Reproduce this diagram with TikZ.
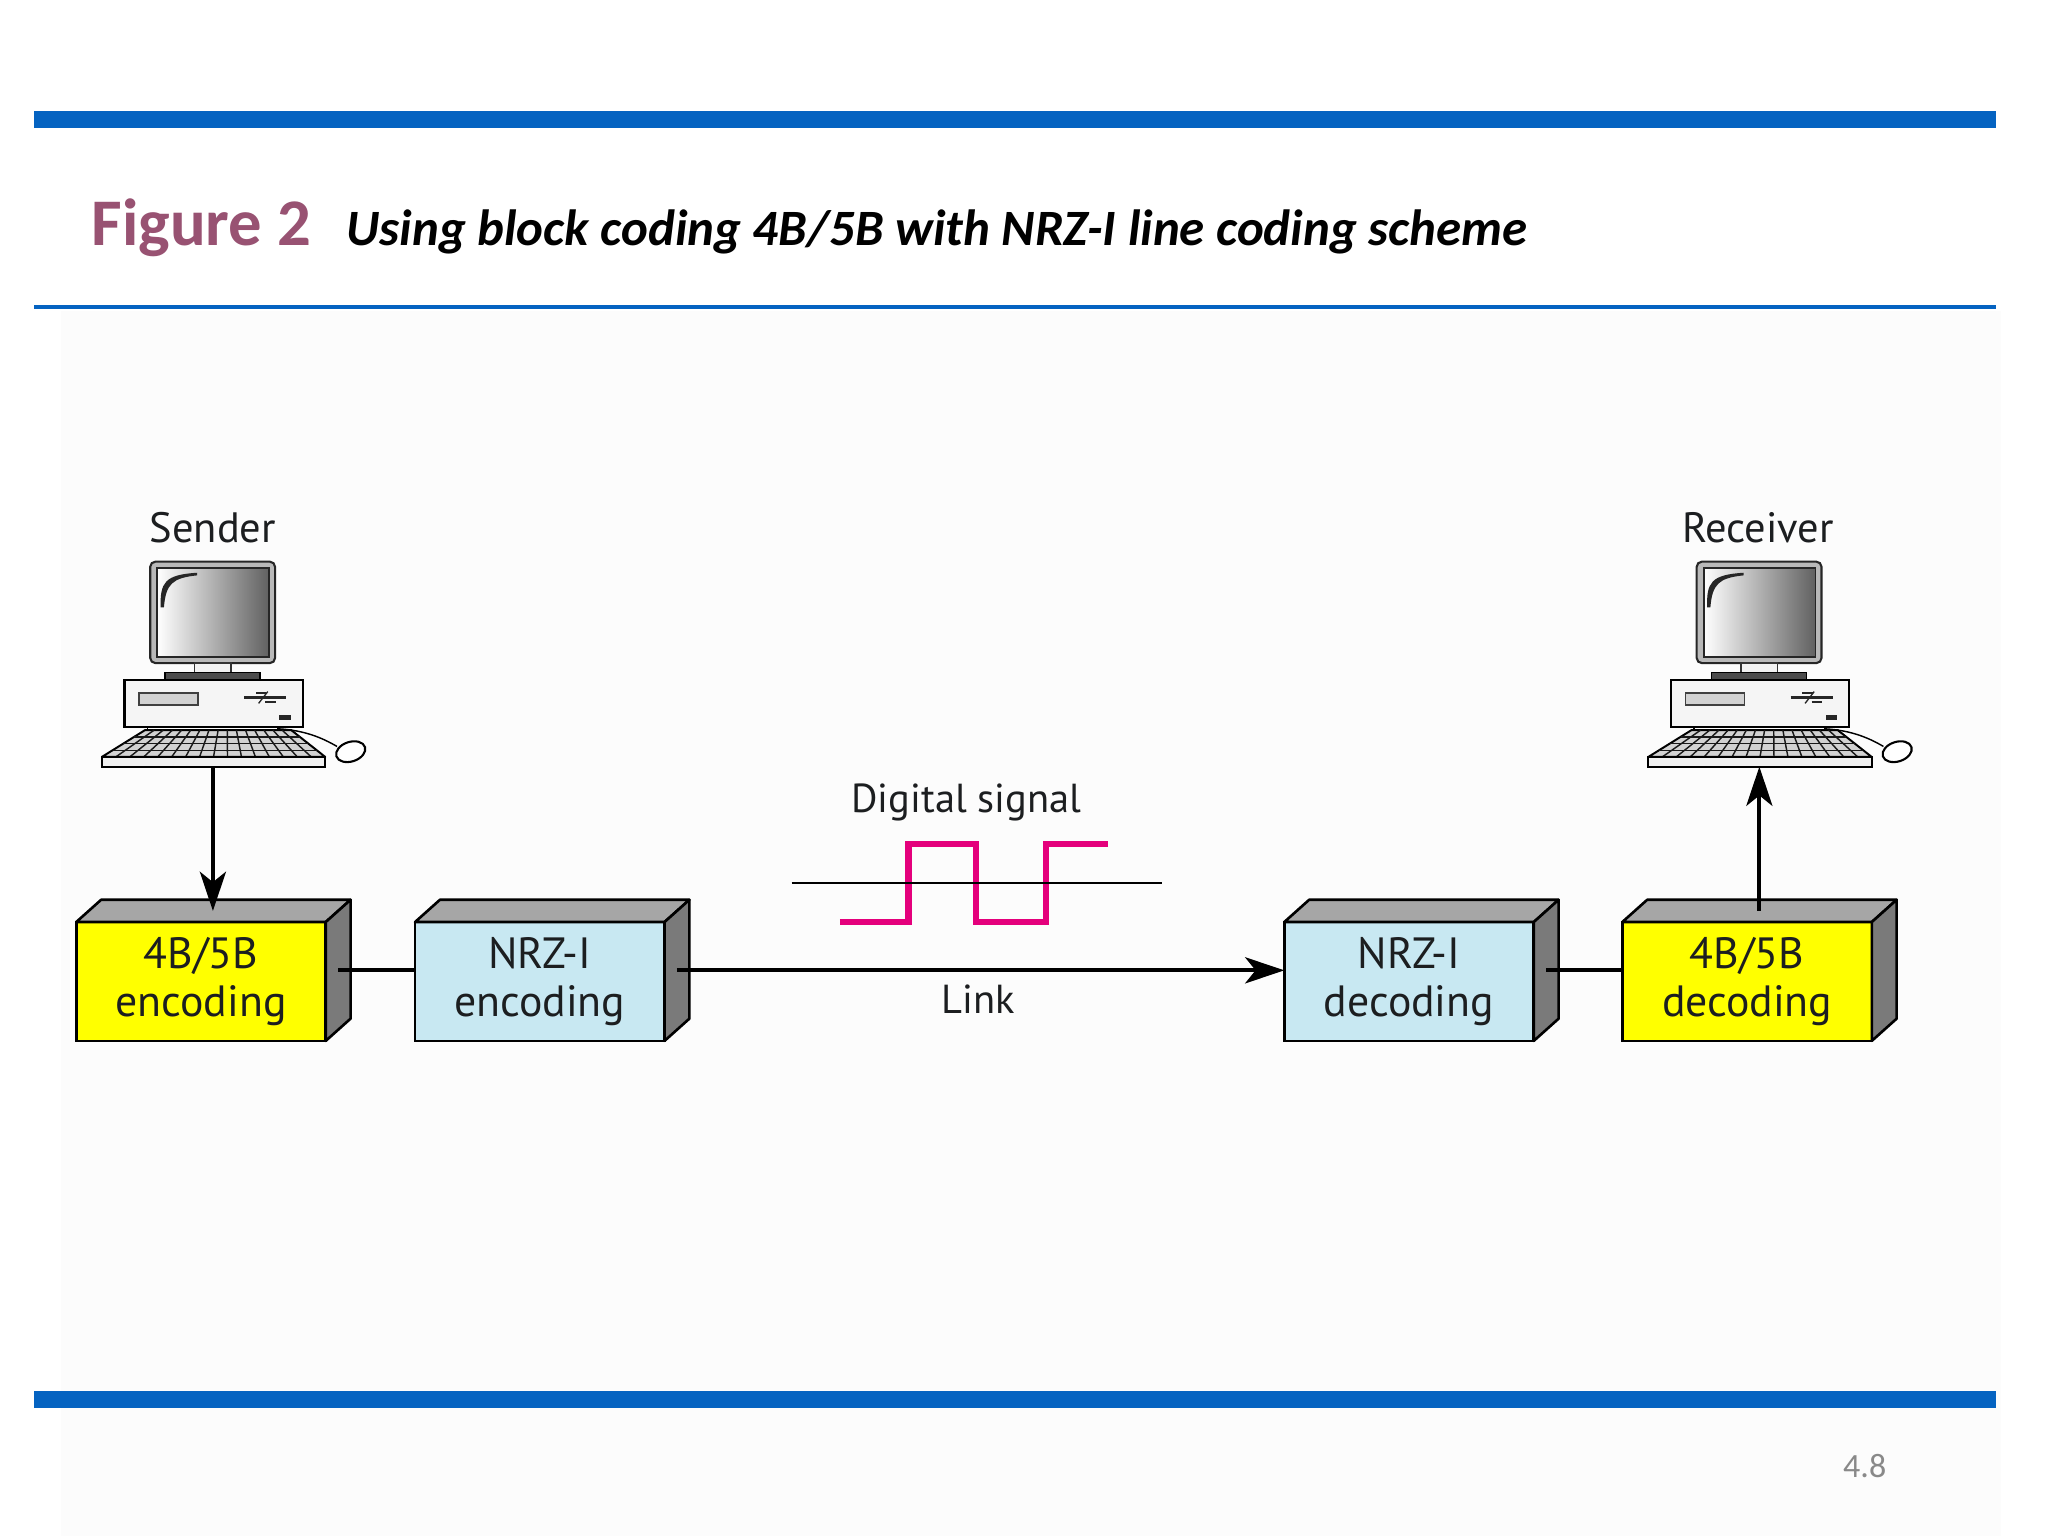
\documentclass[tikz,border=0pt]{standalone}
\usepackage{fontspec}
\setmainfont{Carlito}
\newfontfamily\diag{PT Sans}
\usetikzlibrary{arrows.meta,calc}
\definecolor{barblue}{RGB}{5,99,193}
\definecolor{figmauve}{RGB}{152,82,114}
\definecolor{sigpink}{RGB}{228,0,124}
\definecolor{boxyellow}{RGB}{255,255,0}
\definecolor{boxblue}{RGB}{200,232,242}
\definecolor{topgray}{RGB}{166,166,166}
\definecolor{sidegray}{RGB}{122,122,122}
\definecolor{bggray}{RGB}{252,252,252}
\definecolor{pagegray}{RGB}{137,137,137}
\definecolor{inkdark}{RGB}{28,30,32}
\tikzset{
  cube/.style={draw=black, line width=2bp, minimum width=191bp, minimum height=91bp,
    inner sep=0pt, outer sep=0pt, align=center, text=inkdark,
    font=\diag\fontsize{33.5bp}{37bp}\selectfont},
  topface/.style={fill=topgray, draw=black, line width=2bp, line join=round},
  sideface/.style={fill=sidegray, draw=black, line width=2bp, line join=round},
  conn/.style={draw=black, line width=3bp},
  arr/.style={conn, -{Stealth[length=30bp,width=20bp,inset=8bp]}},
  lbl/.style={inner sep=0pt, text=inkdark, font=\diag\fontsize{31bp}{36bp}\selectfont},
  computer/.pic={
    % monitor
    \filldraw[fill=gray!55, draw=black!85, line width=1.6bp, rounded corners=4bp] (-48,0) rectangle (47.6,77.7);
    \shadedraw[left color=white, right color=black!62, draw=black!85, line width=1.4bp] (-42.5,5) rectangle (43,72.8);
    \fill[black!85] (-40,35) .. controls (-40.5,16) and (-37,10) .. (-12,8.5)
       -- (-12,10.5) .. controls (-31,12.5) and (-36,17) .. (-37.5,35) -- cycle;
    % neck and base
    \filldraw[fill=gray!10, draw=black!80, line width=1.2bp] (-14,77.7) rectangle (14,85);
    \filldraw[fill=black!70, draw=black, line width=1bp] (-36.7,85) rectangle (36,90.7);
    % case
    \filldraw[fill=gray!8, draw=black, line width=1.8bp] (-67.8,90.7) rectangle (68.8,126.4);
    \filldraw[fill=gray!35, draw=black!75, line width=1.2bp] (-56.5,100.4) rectangle (-11.3,109.8);
    \draw[black!85, line width=1.6bp] (24,104) -- (56,104);
    \draw[black!85, line width=1.2bp] (33,100.5) -- (41,100.5) (40,107.5) -- (48,107.5);
    \draw[black!85, line width=1bp] (35,108.5) -- (42,99.5);
    \fill[black!85] (50.7,117.5) rectangle (59.8,121.3);
    \draw[black, line width=1.2bp] (-50,126.4) -- (-50,129) (50,126.4) -- (50,129);
    % keyboard
    \filldraw[fill=gray!35, draw=black, line width=1.5bp, line join=round] (-52,129) -- (60,129) -- (86,149.5) -- (-85,149.5) -- cycle;
    \foreach \k in {1,2,3} {
      \pgfmathsetmacro\yy{129+\k*5.125}
      \pgfmathsetmacro\xl{-52-\k*8.25}
      \pgfmathsetmacro\xr{60+\k*6.5}
      \draw[black!90, line width=1.1bp] (\xl,\yy) -- (\xr,\yy);
    }
    \foreach \i in {1,...,15} {
      \pgfmathsetmacro\xt{-52+\i*7}
      \pgfmathsetmacro\xb{-85+\i*10.6875}
      \draw[black!90, line width=1.1bp] (\xt,129) -- (\xb,149.5);
    }
    \filldraw[fill=gray!12, draw=black, line width=1.5bp] (-85,149.5) rectangle (86,157);
    % mouse
    \draw[black, line width=1.1bp] (50,128) .. controls (70,129) and (84,135) .. (95,141.5);
    \filldraw[fill=white, draw=black, line width=1.6bp, rotate around={18:(105.5,145.5)}] (105.5,145.5) ellipse [x radius=11.5, y radius=7.5];
    \coordinate (-kb) at (0,157);
  }
}
\begin{document}
\begin{tikzpicture}[x=1bp,y=-1bp]
\useasboundingbox (0,0) rectangle (1568,1176);
\fill[white] (0,0) rectangle (1568,1176);
\fill[bggray] (47,238) rectangle (1532,1176);
% bars
\fill[barblue] (26,85) rectangle (1528,97.8);
\fill[barblue] (26,233.5) rectangle (1528,236.6);
\fill[barblue] (26,1064.8) rectangle (1528,1077.6);
% title
\node[anchor=base west, inner sep=0pt, text=figmauve, font=\fontsize{51bp}{60bp}\selectfont\bfseries] (fig) at (70,188) {Figure 2};
\node[anchor=base west, inner sep=0pt, text=black, font=\fontsize{39bp}{46bp}\selectfont\bfseries\itshape] (title) at (265,188) {Using block coding 4B/5B with NRZ-I line coding scheme};
\node[anchor=base west, inner sep=0pt, text=pagegray, font=\fontsize{26bp}{30bp}\selectfont] (page) at (1411,1131) {4.8};
% computers
\pic (snd) at (163,430) {computer};
\pic (rcv) at (1347,430) {computer};
\node[lbl, anchor=base, font=\diag\fontsize{32.5bp}{36bp}\selectfont] (sndl) at (163,415.5) {Sender};
\node[lbl, anchor=base, font=\diag\fontsize{32.5bp}{36bp}\selectfont] (rcvl) at (1346,415.5) {Receiver};
% boxes
\node[cube, fill=boxyellow] (b1) at (153.9,751.4) {4B/5B\\encoding};
\node[cube, fill=boxblue] (b2) at (413.3,751.4) {NRZ-I\\encoding};
\node[cube, fill=boxblue] (b3) at (1078.8,751.4) {NRZ-I\\decoding};
\node[cube, fill=boxyellow] (b4) at (1337.6,751.4) {4B/5B\\decoding};
\foreach \b in {b1,b2,b3,b4} {
  \filldraw[topface] (\b.north west) -- ($(\b.north west)+(19,-17)$) -- ($(\b.north east)+(19,-17)$) -- (\b.north east) -- cycle;
  \filldraw[sideface] (\b.north east) -- ($(\b.north east)+(19,-17)$) -- ($(\b.south east)+(19,-17)$) -- (\b.south east) -- cycle;
  \coordinate (\b r) at ($(\b.east)+(9.5,-8.5)$);
  \coordinate (\b t) at ($(\b.north)+(9.5,-8.5)$);
}
% connectors
\draw[conn] (b1r) -- (b1r -| b2.west);
\draw[arr] (b2r) -- (b2r -| b3.west);
\draw[conn] (b3r) -- (b3r -| b4.west);
\draw[arr] (snd-kb) -- (snd-kb |- b1t);
\draw[arr] (rcv-kb |- b4t) -- (rcv-kb);
% signal
\draw[sigpink, line width=5bp, line join=miter] (643,706) -- (695.4,706) -- (695.4,646) -- (747.3,646) -- (747.3,706) -- (800.7,706) -- (800.7,646) -- (848.4,646);
\draw[black, line width=1.6bp] (606,676) -- (890,676);
\node[lbl, anchor=base] (dsig) at (740,622) {Digital signal};
\node[lbl, anchor=base] (link) at (749,776) {Link};
\end{tikzpicture}
\end{document}
